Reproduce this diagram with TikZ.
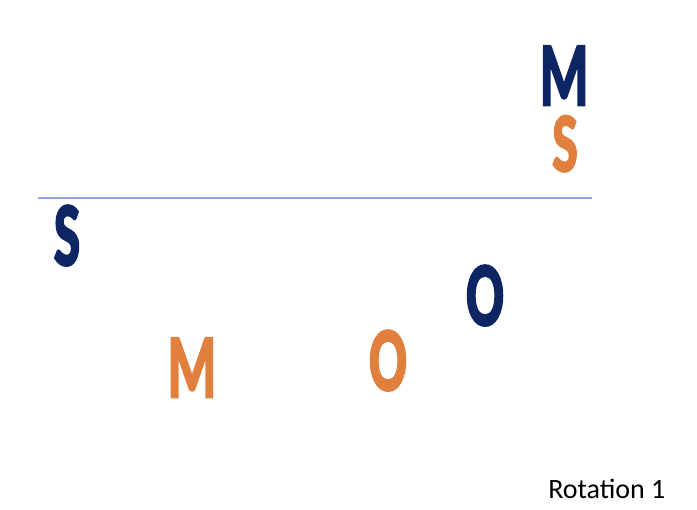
\documentclass[tikz,border=0pt]{standalone}
\usepackage{fontspec}
\setmainfont{Carlito}
\newfontfamily\heavy[FakeBold=3]{Carlito Bold}
\definecolor{navy}{HTML}{0D2563}
\definecolor{orng}{HTML}{E07F3E}
\definecolor{lineblue}{HTML}{8EA5DB}
\begin{document}
\begin{tikzpicture}[x=0.75pt,y=-0.75pt,
  letter/.style={inner sep=0pt, font=\fontsize{68}{68}\heavy, xscale=0.61, transform shape, anchor=base},
  nv/.style={letter, text=navy},
  og/.style={letter, text=orng}]
\useasboundingbox (0,0) rectangle (697,510);
\node[nv] (m1) at (564,105) {M};
\node[og, font=\fontsize{63}{63}\heavy, xscale=1.05] (s1) at (565,171) {S};
\coordinate (l1) at (38,198);
\coordinate (l2) at (592,198);
\draw[lineblue, line width=0.8pt] (l1) -- (l2);
\node[nv] (s2) at (67,265) {S};
\node[nv] (o1) at (485,325) {O};
\node[og] (m2) at (192,397) {M};
\node[og] (o2) at (388,390) {O};
\node[anchor=base west, inner sep=0pt, font=\fontsize{21}{21}\selectfont] (rot) at (548,498) {Rotation 1};
\end{tikzpicture}
\end{document}
